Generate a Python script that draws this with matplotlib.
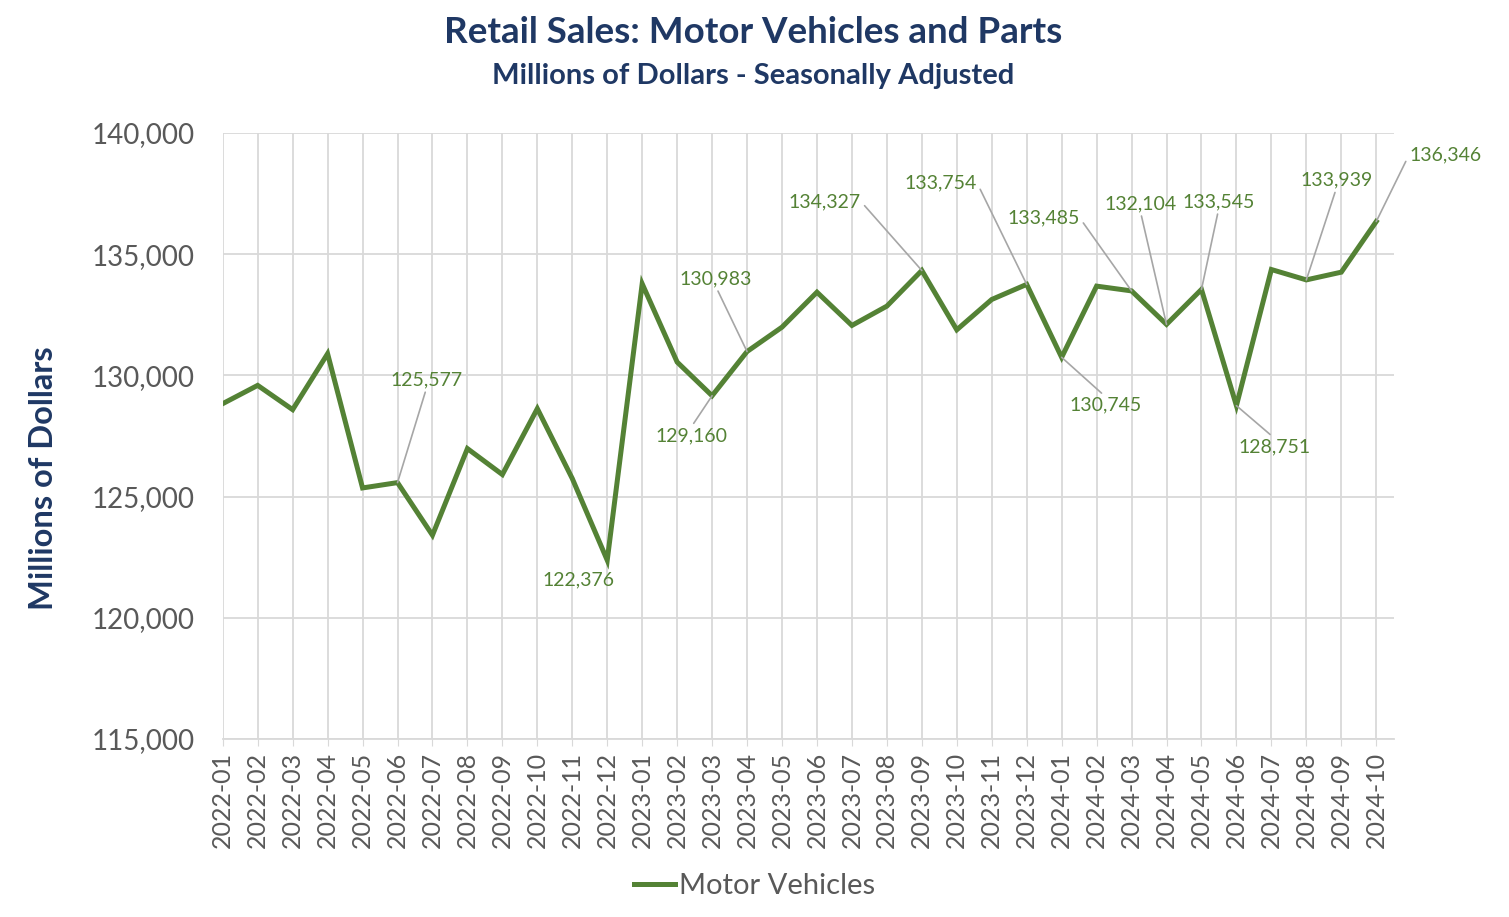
import numpy as np
import matplotlib
matplotlib.use("Agg")
import matplotlib.pyplot as plt
from matplotlib.ticker import FuncFormatter

# datos
meses = ["2022-01", "2022-02", "2022-03", "2022-04", "2022-05", "2022-06",
         "2022-07", "2022-08", "2022-09", "2022-10", "2022-11", "2022-12",
         "2023-01", "2023-02", "2023-03", "2023-04", "2023-05", "2023-06",
         "2023-07", "2023-08", "2023-09", "2023-10", "2023-11", "2023-12",
         "2024-01", "2024-02", "2024-03", "2024-04", "2024-05", "2024-06",
         "2024-07", "2024-08", "2024-09", "2024-10"]
ventas = [128834, 129588, 128587, 130894, 125357, 125577,
          123408, 126980, 125909, 128628, 125744, 122376,
          133778, 130549, 129160, 130983, 131990, 133432,
          132060, 132857, 134327, 131880, 133131, 133754,
          130745, 133682, 133485, 132104, 133545, 128751,
          134367, 133939, 134258, 136346]

# puntos con etiqueta y donde va el texto (offset en pixeles)
etiquetados = [5, 11, 14, 15, 20, 23, 24, 26, 27, 28, 29, 31, 33]
offsets = [(29, 103), (-29, -20), (-21, -40), (-31, 73), (-97, 69),
           (-86, 102), (44, -48), (-88, 73), (-26, 121), (17, 88),
           (38, -41), (30, 100), (69, 67)]
relpos = [(0.5, 0), None, (0.5, 1), (0.5, 0), (1, 0.5),
          (1, 0.5), (0.5, 1), (1, 0.5), (0.5, 0), (0.5, 0),
          (0.5, 1), (0.5, 0), (0, 0.5)]

VERDE = "#548235"
AZUL = "#1F3864"
GRIS = "#595959"

plt.rcParams['font.family'] = ['Lato', 'DejaVu Sans']

fig = plt.figure(figsize=(15.09, 9.17), dpi=100)
ax = fig.add_axes([0.1476, 0.1941, 0.776, 0.6609])

x = np.arange(len(meses))
ax.plot(x, ventas, color=VERDE, lw=3.6, label="Motor Vehicles", solid_joinstyle="miter")

ax.set_xlim(0, len(meses) - 0.5)
ax.set_ylim(115000, 140000)
ax.set_yticks(np.arange(115000, 140001, 5000))
ax.yaxis.set_major_formatter(FuncFormatter(lambda v, p: f"{v:,.0f}"))
ax.set_xticks(x)
ax.set_xticklabels(meses, rotation=90)

ax.grid(True, color="#D9D9D9", lw=1.3)
ax.set_axisbelow(True)
for lado in ["top", "right", "left"]:
    ax.spines[lado].set_visible(False)
ax.spines["bottom"].set_color("#D9D9D9")
ax.spines["bottom"].set_linewidth(1.3)
ax.tick_params(axis="y", length=0, labelsize=20, labelcolor=GRIS, pad=20)
ax.tick_params(axis="x", length=5, color="#D9D9D9", labelsize=18, labelcolor=GRIS, pad=4)

ax.set_ylabel("Millions of Dollars", fontsize=23.5, fontweight="bold", color=AZUL,
              labelpad=24, y=0.431)

for i, off, rp in zip(etiquetados, offsets, relpos):
    flecha = None
    if rp is not None:
        flecha = dict(arrowstyle="-", color="#A6A6A6", lw=1.2, relpos=rp,
                      shrinkA=1, shrinkB=0)
    ax.annotate(f"{ventas[i]:,}", xy=(i, ventas[i]), xytext=off,
                textcoords="offset pixels", ha="center", va="center",
                fontsize=14, color=VERDE, arrowprops=flecha)

fig.text(0.499, 0.965, "Retail Sales: Motor Vehicles and Parts", ha="center", va="center",
         fontsize=26.5, fontweight="bold", color=AZUL)
fig.text(0.499, 0.917, "Millions of Dollars - Seasonally Adjusted", ha="center", va="center",
         fontsize=21, fontweight="bold", color=AZUL)

fig.legend(loc="center", bbox_to_anchor=(0.5, 0.034), frameon=False, fontsize=21,
           handlelength=1.4, handletextpad=0.15, labelcolor=GRIS)

fig.savefig("out.png", dpi=100)
